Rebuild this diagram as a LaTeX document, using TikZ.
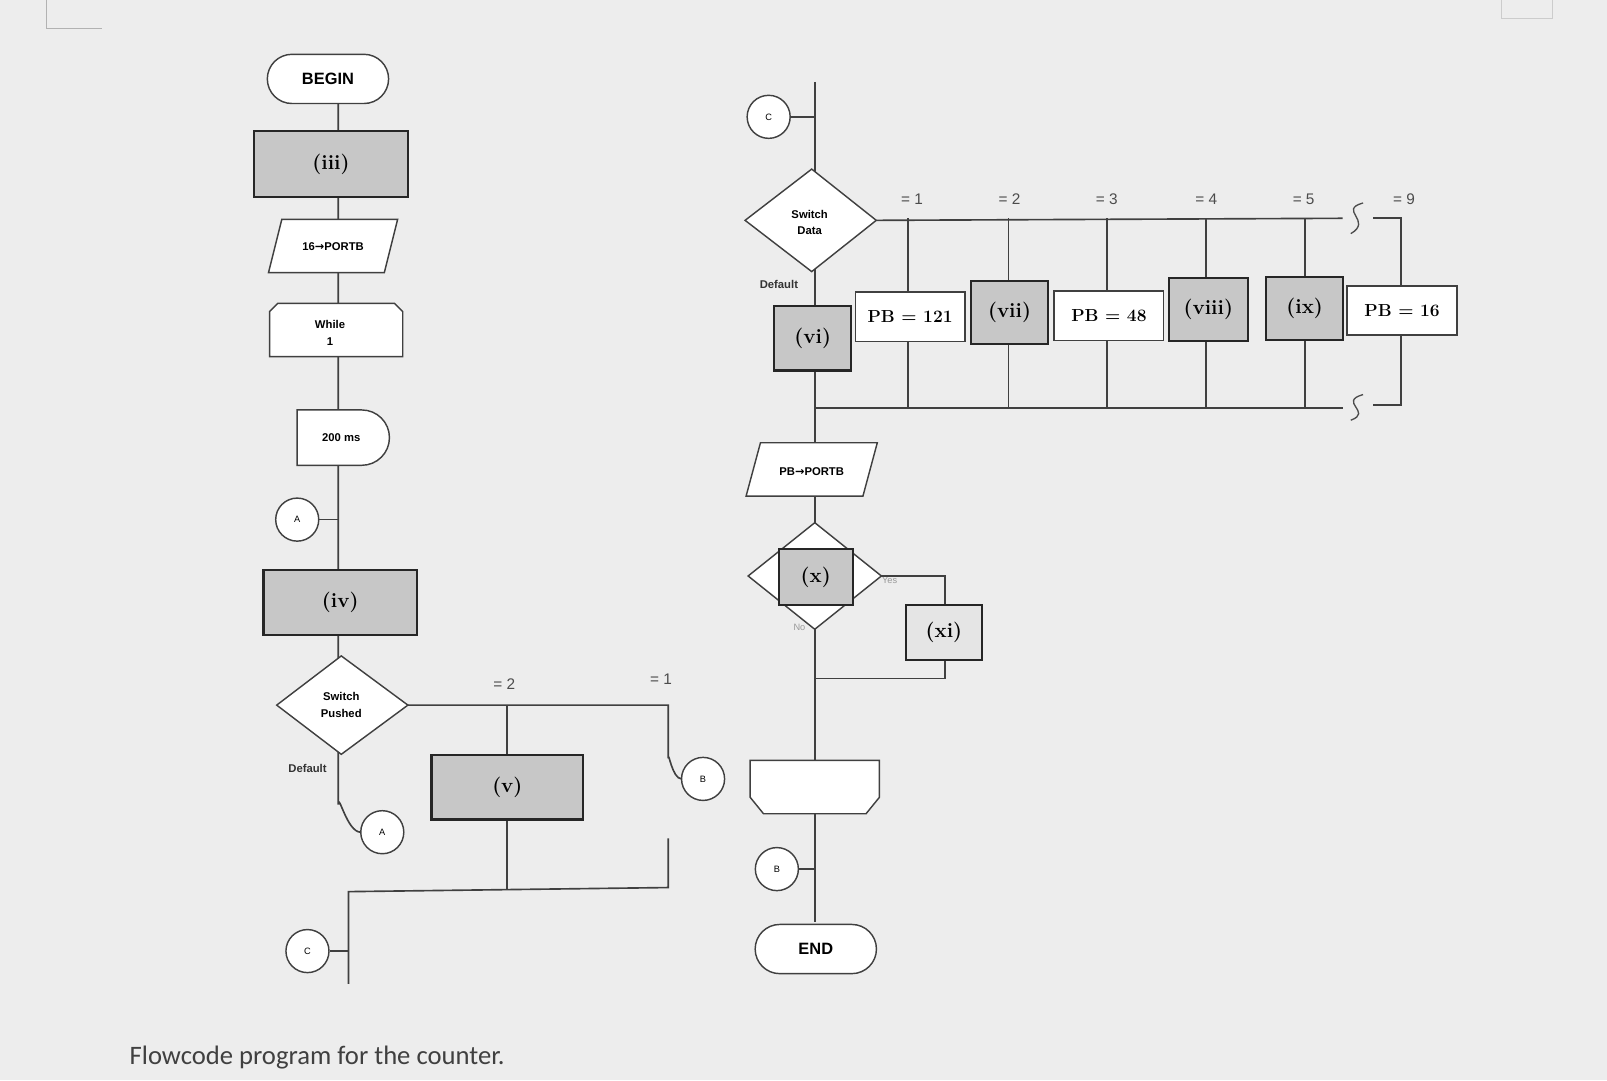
\documentclass[tikz,border=0pt]{standalone}
\usepackage{fontspec}
\setsansfont{Liberation Sans}
\newfontfamily\capfont{Carlito}
\newfontfamily\arr{DejaVu Sans}
\usetikzlibrary{shapes.geometric,shapes.misc}
\begin{document}
\begin{tikzpicture}[x=1pt,y=-1pt,
  ln/.style={draw=black!75,line width=1.6pt},
  sh/.style={draw=black!75,line width=1.4pt,fill=white},
  gbox/.style={draw=black!85,line width=2.2pt,fill=black!22,minimum width=#1,font=\fontsize{20}{22}\selectfont\bfseries},
  wbox/.style={draw=black!75,line width=1.4pt,fill=white,minimum width=#1,minimum height=48pt,font=\fontsize{17}{20}\selectfont\bfseries},
  term/.style={draw=black!75,line width=1.4pt,fill=white,rounded rectangle,minimum width=125pt,minimum height=48pt,font=\sffamily\bfseries\fontsize{16}{18}\selectfont},
  conn/.style={draw=black!75,line width=1.4pt,fill=white,circle,minimum size=42pt,font=\sffamily\fontsize{9}{10}\selectfont,inner sep=0pt},
  lab/.style={font=\sffamily\fontsize{15}{17}\selectfont,text=black!70},
  stxt/.style={font=\sffamily\bfseries\fontsize{11}{16}\selectfont,align=center},
  slab/.style={font=\sffamily\bfseries\fontsize{11}{13}\selectfont,text=black!80}]
\fill[black!7] (0,0) rectangle (1568,1054);
\useasboundingbox (0,0) rectangle (1568,1054);
\draw[black!30,line width=1pt] (45,0)--(45,28)--(100,28);
\draw[black!20,line width=1pt] (1465,0)--(1465,18)--(1515,18)--(1515,0);
% left column
\draw[ln] (330,80)--(330,785) to[out=90,in=180] (352,812);
\node[term] (begin) at (320,77) {BEGIN};
\node[gbox=150pt,minimum height=64pt] (iii) at (323,160) {(iii)};
\draw[sh] (275,214)--(388,214)--(375,266)--(262,266)--cycle;
\node[stxt] (p16) at (325,241) {16{\arr→}PORTB};
\draw[sh] (271,296)--(385,296)--(393,304)--(393,348)--(263,348)--(263,304)--cycle;
\node[stxt] (wh) at (322,325) {While\\1};
\draw[sh] (290,400)--(353,400) arc[start angle=-90,end angle=90,radius=27]--(290,454)--cycle;
\node[stxt] (dly) at (333,427) {200 ms};
\node[conn] (ca) at (290,507) {A};
\draw[ln] (ca)--(330,507);
\node[gbox=150pt,minimum height=63pt] (iv) at (332,588) {(iv)};
\draw[sh] (333,640)--(398,688)--(333,736)--(270,688)--cycle;
\node[stxt] (sw) at (333,688) {Switch\\Pushed};
\node[slab] at (300,750) {Default};
\draw[ln] (398,688)--(652,688)--(652,740) to[out=90,in=180] (665,760);
\node[conn] (cb) at (686,760) {B};
\node[lab] at (492,668) {= 2};
\node[lab] at (645,663) {= 1};
\draw[ln] (495,688)--(495,868);
\node[gbox=148pt,minimum height=63pt] (v) at (495,768) {(v)};
\node[conn] (ca2) at (373,812) {A};
\draw[ln] (652,818)--(652,866)--(340,870)--(340,960);
\node[conn] (cc) at (300,928) {C};
\draw[ln] (cc)--(340,928);
% right column
\draw[ln] (795,80)--(795,900);
\node[conn] (cc2) at (750,114) {C};
\draw[ln] (cc2)--(795,114);
\draw[sh] (792,165)--(855,215)--(792,265)--(727,215)--cycle;
\node[stxt] (sd) at (790,217) {Switch\\Data};
\node[slab] at (760,278) {Default};
\draw[ln] (855,215)--(1310,213);
\draw[ln] (1340,213)--(1367,213)--(1367,395)--(1340,395);
\draw[ln] (795,398)--(1310,398);
\foreach \x in {886,984,1080,1177,1273} \draw[ln] (\x,213)--(\x,398);
\draw[black!70,line width=1.3pt] (1330,198) .. controls (1305,205) and (1340,215) .. (1318,228);
\draw[black!70,line width=1.3pt] (1330,385) .. controls (1305,392) and (1340,402) .. (1318,410);
\foreach \x/\t in {890/1,985/2,1080/3,1177/4,1272/5,1370/9} \node[lab] at (\x,194) {= \t};
\node[wbox=107pt] (b121) at (888,309) {PB = 121};
\node[gbox=75pt,minimum height=62pt] (vii) at (985,305) {(vii)};
\node[wbox=107pt] (b48) at (1082,308) {PB = 48};
\node[gbox=77pt,minimum height=62pt] (viii) at (1179,302) {(viii)};
\node[gbox=75pt,minimum height=62pt] (ix) at (1273,301) {(ix)};
\node[wbox=107pt] (b16) at (1368,303) {PB = 16};
\node[gbox=75pt,minimum height=63pt] (vi) at (793,330) {(vi)};
\draw[sh] (742,432)--(856,432)--(842,484)--(728,484)--cycle;
\node[stxt] (pb) at (792,460) {PB{\arr→}PORTB};
\draw[sh] (795,510)--(860,562)--(795,614)--(730,562)--cycle;
\node[gbox=72pt,minimum height=54pt] (x) at (796,563) {(x)};
\node[text=black!40,font=\sffamily\fontsize{9}{10}\selectfont] at (868,566) {Yes};
\node[text=black!40,font=\sffamily\fontsize{9}{10}\selectfont] at (780,612) {No};
\draw[ln] (860,562)--(922,562)--(922,662)--(795,662);
\node[gbox=74pt,minimum height=54pt,fill=black!10] (xi) at (921,617) {(xi)};
\draw[sh] (732,742)--(858,742)--(858,778)--(845,794)--(745,794)--(732,778)--cycle;
\node[conn] (cb2) at (758,848) {B};
\draw[ln] (cb2)--(795,848);
\node[term] (end) at (796,926) {END};
\node[anchor=west,font=\capfont\fontsize{26}{28}\selectfont,text=black!75] (cap) at (123,1032) {Flowcode program for the counter.};
\end{tikzpicture}
\end{document}
